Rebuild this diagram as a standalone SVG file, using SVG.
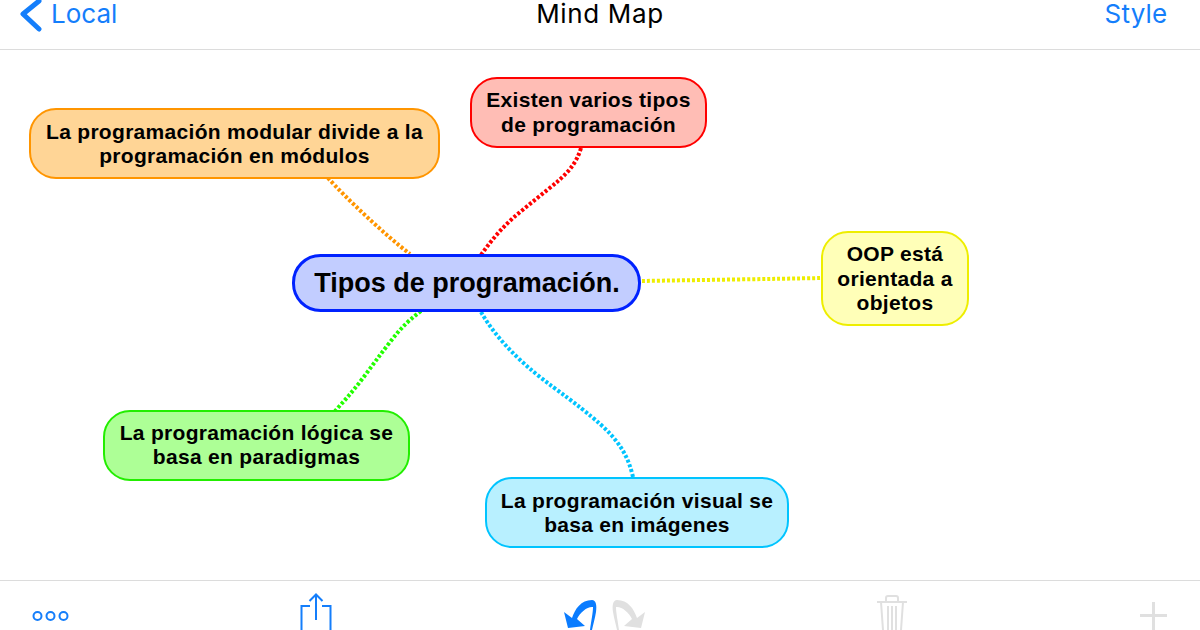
<svg xmlns="http://www.w3.org/2000/svg" width="1200" height="630" viewBox="0 0 1200 630">
<style>
.bar{font-family:"Inter","Liberation Sans",Arial,sans-serif;font-size:26px}
.blue{fill:#147efb}
.t{font-family:"Liberation Sans",Arial,sans-serif;font-weight:bold;font-size:21px;fill:#000;text-anchor:middle;letter-spacing:.3px}
.c{fill:none;stroke-width:4;stroke-dasharray:3 2}
.n{stroke-width:2}
.ico{fill:none;stroke:#147efb;stroke-width:2}
.off{fill:none;stroke:#e0e0e0;stroke-width:2}
</style>
<rect width="1200" height="630" fill="#fff"/>
<g id="top-bar">
<path d="M39 1 L23 14 L39 29" fill="none" stroke="#147efb" stroke-width="5" stroke-linecap="round" stroke-linejoin="round"/>
<text class="bar blue" x="51" y="23">Local</text>
<text class="bar" x="600" y="23" text-anchor="middle" fill="#000" letter-spacing=".65">Mind Map</text>
<text class="bar blue" x="1136" y="23" text-anchor="middle" letter-spacing=".2">Style</text>
<line x1="0" y1="49.500" x2="1200" y2="49.500" stroke="#dcdcdc"/>
</g>
<g id="connectors">
<path class="c" stroke="#ff9500" d="M328 178 C345 197 385 235 410 254"/>
<path class="c" stroke="#ff0000" d="M581 148 C576 165 566 174 557 182 C545 192 527 206 513 218 C500 230 490 242 481 255"/>
<path class="c" stroke="#eeee00" d="M642 281 C700 280 770 279 822 278"/>
<path class="c" stroke="#22ff00" d="M421 311 C405 323 398 332 390 342 C380 355 372 366 363 378 C354 390 345 400 335 411"/>
<path class="c" stroke="#00c4ff" d="M481 312 C500 345 530 370 553 387 C575 403 590 415 600 424 C618 440 628 455 633 477"/>
</g>
<g id="node-root">
<rect x="293.500" y="255.500" width="346" height="55" rx="27" fill="#c2cdff" stroke="#0022ff" stroke-width="3"/>
<text class="t" x="467" y="292" style="font-size:27px;letter-spacing:0">Tipos de programación.</text>
</g>
<g id="node-modular">
<rect class="n" x="30" y="109" width="409" height="69" rx="26" fill="#ffd596" stroke="#ff9500"/>
<text class="t" x="234.500" y="139">La programación modular divide a la</text>
<text class="t" x="234.500" y="163">programación en módulos</text>
</g>
<g id="node-tipos">
<rect class="n" x="471" y="78" width="235" height="69" rx="26" fill="#ffbdb5" stroke="#f00"/>
<text class="t" x="588.500" y="107">Existen varios tipos</text>
<text class="t" x="604" y="132" dx="-15.500">de programación</text>
</g>
<g id="node-oop">
<rect class="n" x="822" y="232" width="146" height="93" rx="26" fill="#ffffb8" stroke="#eeee00"/>
<text class="t" x="895" y="261">OOP está</text>
<text class="t" x="895" y="286">orientada a</text>
<text class="t" x="895" y="310">objetos</text>
</g>
<g id="node-logica">
<rect class="n" x="104" y="411" width="305" height="69" rx="26" fill="#adff96" stroke="#22ee00"/>
<text class="t" x="256.500" y="440">La programación lógica se</text>
<text class="t" x="256.500" y="464">basa en paradigmas</text>
</g>
<g id="node-visual">
<rect class="n" x="486" y="478" width="302" height="69" rx="26" fill="#b8f0ff" stroke="#00c4ff"/>
<text class="t" x="637" y="508">La programación visual se</text>
<text class="t" x="637" y="532">basa en imágenes</text>
</g>
<g id="bottom-bar">
<line x1="0" y1="580.500" x2="1200" y2="580.500" stroke="#dcdcdc"/>
<circle class="ico" cx="37.500" cy="616" r="4"/>
<circle class="ico" cx="50.500" cy="616" r="4"/>
<circle class="ico" cx="63.500" cy="616" r="4"/>
<path class="ico" d="M310 606 H301.500 V630 M322 606 H330.500 V630 M316 620 V595 M309.500 601 L316 594.500 L322.500 601"/>
<path id="undo" d="M564 612 L572 618 C575 609 581 600 592 600 C596 600 597 605 596 612 C595 618 593 625 592 630 L590 630 C591 622 593 613 593 607 C588 606 580 612 577 619 L585 626 L568 628 Z" fill="#0a7cff"/>
<path id="redo" d="M564 612 L572 618 C575 609 581 600 592 600 C596 600 597 605 596 612 C595 618 593 625 592 630 L590 630 C591 622 593 613 593 607 C588 606 580 612 577 619 L585 626 L568 628 Z" fill="#e0e0e0" transform="matrix(-1 0 0 1 1209 0)"/>
<path class="off" d="M877 602 H907 M881 602 L883 630 M903 602 L901 630 M888 606 V630 M892 606 V630 M896 606 V630 M886 601 V598 Q886 596 888 596 H896 Q898 596 898 598 V601"/>
<path d="M1153.500 602 V630 M1140 615.500 H1167" fill="none" stroke="#e0e0e0" stroke-width="3"/>
</g>
</svg>
